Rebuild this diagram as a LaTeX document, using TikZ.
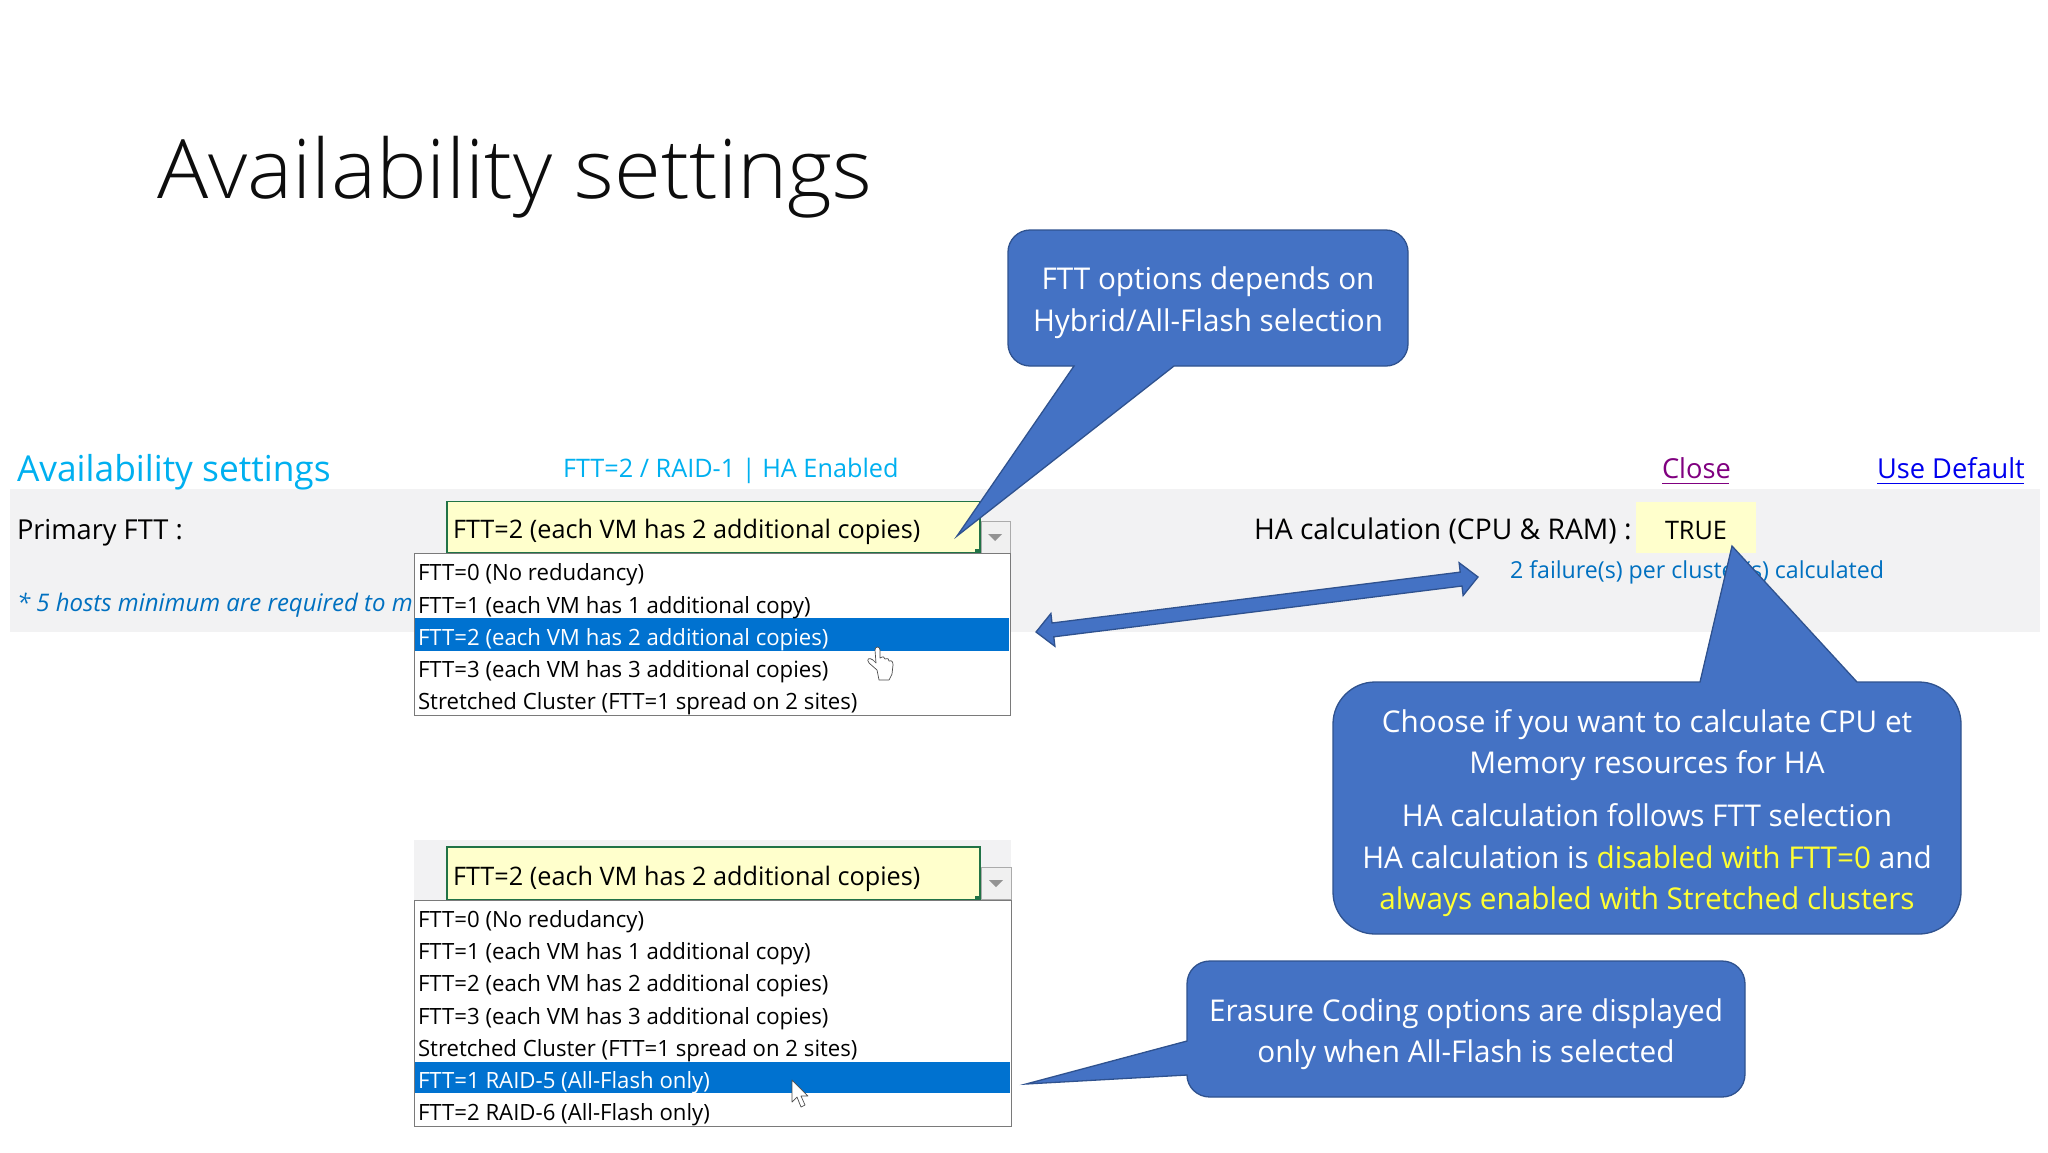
\documentclass[tikz,border=0pt]{standalone}
\usepackage{fontspec}
\setmainfont{Open Sans}[FakeStretch=0.99]
\newfontfamily\titlefont{Open Sans Light}[FakeStretch=1.04]
\definecolor{cfill}{HTML}{4472C4}
\definecolor{cline}{HTML}{2F528F}
\definecolor{band}{HTML}{F2F2F3}
\definecolor{cellyellow}{HTML}{FFFFCC}
\definecolor{xlgreen}{HTML}{217346}
\definecolor{hilite}{HTML}{0072D0}
\definecolor{headblue}{HTML}{00B0F0}
\definecolor{noteblue}{HTML}{0070C0}
\definecolor{linkpurple}{HTML}{800080}
\definecolor{linkblue}{HTML}{0000EE}
\definecolor{hiyellow}{HTML}{FFFF33}
\definecolor{btn}{HTML}{F0F0F0}
\definecolor{btnline}{HTML}{ABABAB}
\definecolor{listline}{HTML}{7A7A7A}
\tikzset{
  every node/.style={inner sep=0pt,outer sep=0pt},
  callout/.style={fill=cfill,draw=cline,line width=1.3pt,line join=miter},
  ctext/.style={text=white,font=\fontsize{30}{36}\selectfont,anchor=mid,yshift=-9pt},
  cell/.style={font=\fontsize{25.5}{32}\selectfont,anchor=mid west,text=black,yshift=-7.5pt},
  rowtext/.style={font=\fontsize{22.4}{28}\selectfont,anchor=mid west,text=black,yshift=-5.5pt},
  listbox/.style={fill=white,draw=listline,line width=1pt},
  dropbtn/.style={fill=btn,draw=btnline,line width=0.8pt},
  tri/.style={fill=gray!85},
  ptr/.style={fill=white,draw=black!70,line width=0.7pt,line join=round},
}
\begin{document}
\begin{tikzpicture}[x=1pt,y=-1pt]
\useasboundingbox (0,0) rectangle (2048,1152);
\fill[white] (0,0) rectangle (2048,1152);
% title
\node[anchor=base west,font=\titlefont\fontsize{82}{96}\selectfont,text=black!95] (title) at (157,198) {Availability settings};
% grey band
\fill[band] (10,489) rectangle (2040,632);
\fill[band] (414,840) rectangle (1011,900);
% heading row
\node[anchor=mid west,font=\fontsize{35.7}{40}\selectfont,text=headblue,yshift=-10pt] (sub) at (17,469) {Availability settings};
\node[anchor=mid west,font=\fontsize{25.5}{30}\selectfont,text=headblue,yshift=-7pt] (summary) at (563,468) {FTT=2 / RAID-1 | HA Enabled};
\node[cell,font=\fontsize{27.5}{32}\selectfont,text=linkpurple] (close) at (1662,468.5) {Close};
\draw[linkpurple,line width=1.6pt] (1662,483.5) -- (1729,483.5);
\node[cell,font=\fontsize{27.5}{32}\selectfont,text=linkblue] (default) at (1877,468.5) {Use Default};
\draw[linkblue,line width=1.6pt] (1877,483.5) -- (2024,483.5);
\node[cell,font=\fontsize{27.5}{32}\selectfont] (primary) at (17,529) {Primary FTT :};
\node[anchor=mid west,font=\itshape\fontsize{24.2}{28}\selectfont,text=noteblue,yshift=-7pt] (hosts) at (17,602) {* 5 hosts minimum are required to m};
% HA
\node[cell,font=\fontsize{28.5}{32}\selectfont] (halabel) at (1254,529) {HA calculation (CPU \& RAM) :};
\fill[cellyellow] (1636,502) rectangle (1756,553);
\node[cell,font=\fontsize{25.5}{30}\selectfont] (ha) at (1665,529) {TRUE};
\node[anchor=mid west,font=\fontsize{23.4}{28}\selectfont,text=noteblue,yshift=-6pt] (failures) at (1510,570) {2 failure(s) per cluster(s) calculated};
% first dropdown
\draw[fill=cellyellow,draw=xlgreen,line width=1.6pt] (447,501.5) rectangle (980,553);
\node[cell] (sel1) at (453,528) {FTT=2 (each VM has 2 additional copies)};
\draw[dropbtn] (981,521) rectangle (1010,553);
\fill[tri] (988,534) -- (1002,534) -- (995,541) -- cycle;
\fill[xlgreen] (975,549) rectangle (981,553);
\draw[listbox] (414,553) rectangle (1010,715);
\fill[hilite] (415,618) rectangle (1009,651);
\node[rowtext] (a0) at (418,572) {FTT=0 (No redudancy)};
\node[rowtext] (a1) at (418,605) {FTT=1 (each VM has 1 additional copy)};
\node[rowtext,text=white] (a2) at (418,637) {FTT=2 (each VM has 2 additional copies)};
\node[rowtext] (a3) at (418,669) {FTT=3 (each VM has 3 additional copies)};
\node[rowtext] (a4) at (418,701) {Stretched Cluster (FTT=1 spread on 2 sites)};
% hand pointer
\draw[ptr,line cap=round] (877,670) -- (869,663) .. controls (866,659) and (869,657) .. (873,660) -- (876,663) -- (875,650) .. controls (875,646) and (880,646) .. (880,650) -- (880,658) .. controls (883,656) and (885,657) .. (885,659) .. controls (888,658) and (889,659) .. (889,661) .. controls (892,660) and (893,662) .. (893,665) -- (892,674) -- (889,680) -- (879,680) -- cycle;
% second dropdown
\draw[fill=cellyellow,draw=xlgreen,line width=1.6pt] (447,847) rectangle (980,900);
\node[cell] (sel2) at (453,875) {FTT=2 (each VM has 2 additional copies)};
\draw[dropbtn] (981,867) rectangle (1011,899);
\fill[tri] (989,880) -- (1003,880) -- (996,887) -- cycle;
\fill[xlgreen] (975,896) rectangle (981,900);
\draw[listbox] (414,900) rectangle (1011,1126);
\fill[hilite] (415,1062) rectangle (1010,1093);
\node[rowtext] (b0) at (418,919) {FTT=0 (No redudancy)};
\node[rowtext] (b1) at (418,951) {FTT=1 (each VM has 1 additional copy)};
\node[rowtext] (b2) at (418,983) {FTT=2 (each VM has 2 additional copies)};
\node[rowtext] (b3) at (418,1016) {FTT=3 (each VM has 3 additional copies)};
\node[rowtext] (b4) at (418,1048) {Stretched Cluster (FTT=1 spread on 2 sites)};
\node[rowtext,text=white] (b5) at (418,1080) {FTT=1 RAID-5 (All-Flash only)};
\node[rowtext] (b6) at (418,1112) {FTT=2 RAID-6 (All-Flash only)};
% arrow pointer
\draw[ptr] (792,1080) -- (792,1102) -- (797,1097) -- (801,1107) -- (805,1105) -- (801,1096) -- (808,1096) -- cycle;
% double arrow
\draw[callout] (1036,632) -- (1050.9,613.5) -- (1052,623) -- (1460.2,572.1) -- (1459.1,562.7) -- (1478,577) -- (1463.1,595.5) -- (1462,586) -- (1053.8,636.8) -- (1054.9,646.3) -- cycle;
% callout 1
\draw[callout] (1200,230) -- (1030,230) .. controls (1018,230) and (1008,240) .. (1008,252) -- (1008,344) .. controls (1008,356) and (1018,366) .. (1030,366) -- (1074,366) -- (957,536) -- (1174,366) -- (1386,366) .. controls (1398,366) and (1408,356) .. (1408,344) -- (1408,252) .. controls (1408,240) and (1398,230) .. (1386,230) -- cycle;
\node[ctext] (c1a) at (1208,278) {FTT options depends on};
\node[ctext] (c1b) at (1208,319.5) {Hybrid/All-Flash selection};
% callout 2
\draw[callout] (1500,934) -- (1375,934) .. controls (1352,934) and (1333,915) .. (1333,892) -- (1333,724) .. controls (1333,701) and (1352,682) .. (1375,682) -- (1700,682) -- (1732,546) -- (1857,682) -- (1919,682) .. controls (1942,682) and (1961,701) .. (1961,724) -- (1961,892) .. controls (1961,915) and (1942,934) .. (1919,934) -- cycle;
\node[ctext] (c2a) at (1647,721) {Choose if you want to calculate CPU et};
\node[ctext] (c2b) at (1647,762) {Memory resources for HA};
\node[ctext] (c2c) at (1647,815) {HA calculation follows FTT selection};
\node[ctext] (c2d) at (1647,856.5) {HA calculation is \textcolor{hiyellow}{disabled with FTT=0} and};
\node[ctext,text=hiyellow] (c2e) at (1647,897.5) {always enabled with Stretched clusters};
% callout 3
\draw[callout] (1400,961) -- (1210,961) .. controls (1197,961) and (1187,971) .. (1187,984) -- (1187,1041) -- (1026,1084) -- (1187,1075) .. controls (1187,1087) and (1197,1097) .. (1210,1097) -- (1722,1097) .. controls (1735,1097) and (1745,1087) .. (1745,1074) -- (1745,984) .. controls (1745,971) and (1735,961) .. (1722,961) -- cycle;
\node[ctext] (c3a) at (1466,1010) {Erasure Coding options are displayed};
\node[ctext] (c3b) at (1466,1051) {only when All-Flash is selected};
\end{tikzpicture}
\end{document}
